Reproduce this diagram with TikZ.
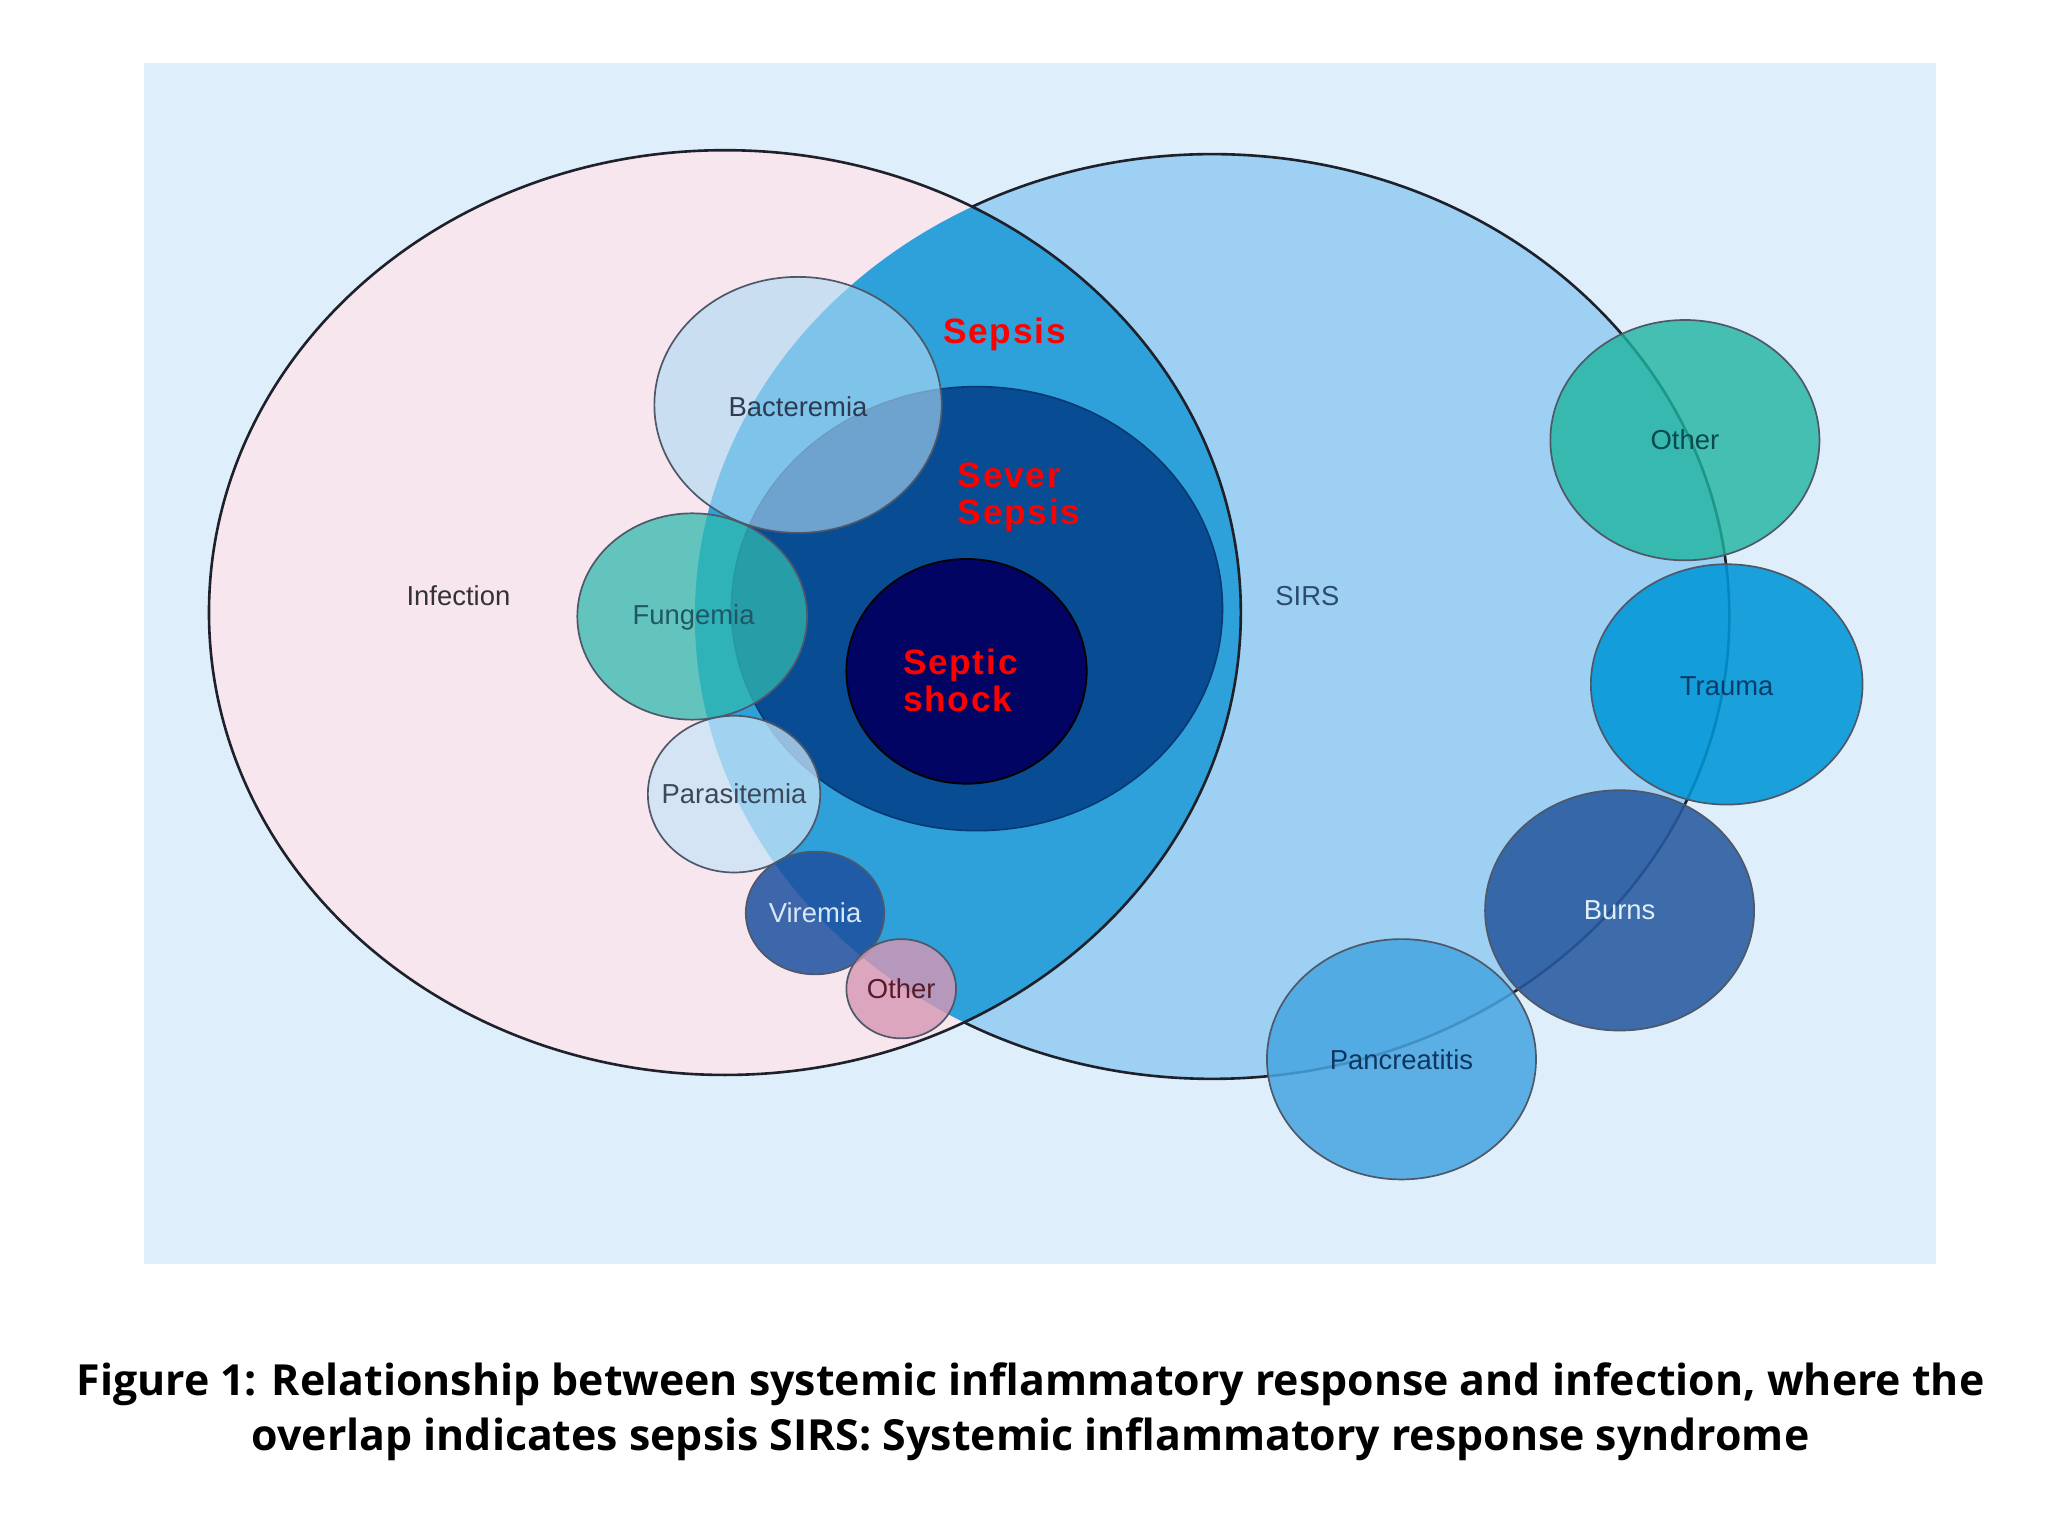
\documentclass[tikz,border=0pt]{standalone}
\usepackage{fontspec}
\setmainfont{Liberation Sans}
\newfontfamily\capfont{Open Sans}
\newfontfamily\redfont{Liberation Sans}[LetterSpace=5]
\usepackage{tikz}
\definecolor{bgblue}{RGB}{222,238,250}
\definecolor{infpink}{RGB}{248,230,238}
\definecolor{sirsblue}{RGB}{157,208,242}
\definecolor{sepsisblue}{RGB}{46,160,218}
\definecolor{severeblue}{RGB}{8,76,148}
\definecolor{shocknavy}{RGB}{2,4,100}
\definecolor{ringline}{RGB}{30,32,42}
\definecolor{bubbleline}{RGB}{78,88,104}
\definecolor{bacblue}{RGB}{175,218,244}
\definecolor{parblue}{RGB}{200,228,247}
\definecolor{fungteal}{RGB}{50,185,175}
\definecolor{virblue}{RGB}{30,80,160}
\definecolor{othpink}{RGB}{215,150,180}
\definecolor{othteal}{RGB}{30,180,160}
\definecolor{traublue}{RGB}{0,150,215}
\definecolor{burnblue}{RGB}{40,90,160}
\definecolor{panblue}{RGB}{70,165,225}
\definecolor{sepred}{RGB}{255,0,0}
\tikzset{ring/.style={draw=ringline,line width=1pt},bubble/.style={draw=bubbleline,line width=.65pt},lbl/.style={anchor=center,inner sep=1pt,font=\fontsize{10.5}{12}\selectfont},redlbl/.style={inner sep=1pt,text=sepred,align=left,font=\redfont\bfseries\fontsize{13.5}{14}\selectfont}}

\begin{document}
\begin{tikzpicture}[x=.5pt,y=-.5pt]
\path[use as bounding box] (0,0) rectangle (1568,1176);
\fill[bgblue] (110,48) rectangle (1482,968);
% the two big sets
\coordinate (infC) at (555,469);
\coordinate (sirsC) at (928,472);
\fill[sirsblue] (sirsC) ellipse [x radius=396,y radius=354];
\draw[ring] (sirsC) ellipse [x radius=396,y radius=354];
\fill[infpink] (infC) ellipse [x radius=395,y radius=354];
\begin{scope}
\clip (sirsC) ellipse [x radius=396,y radius=354];
\fill[sepsisblue] (infC) ellipse [x radius=395,y radius=354];
\end{scope}
\draw[ring] (infC) ellipse [x radius=395,y radius=354];
\fill[severeblue] (748,466) ellipse [x radius=188,y radius=170];
\draw[severeblue!75!black,line width=.6pt] (748,466) ellipse [x radius=188,y radius=170];
\draw[fill=shocknavy,draw=black,line width=.7pt] (740,514) ellipse [x radius=92,y radius=86];
% infection bubbles
\fill[bacblue,fill opacity=.62] (611,310) ellipse [x radius=110,y radius=98];
\draw[bubble] (611,310) ellipse [x radius=110,y radius=98];
\fill[fungteal,fill opacity=.75] (530,472) ellipse [x radius=88,y radius=79];
\draw[bubble] (530,472) ellipse [x radius=88,y radius=79];
\fill[parblue,fill opacity=.75] (562,608) ellipse [x radius=66,y radius=60];
\draw[bubble] (562,608) ellipse [x radius=66,y radius=60];
\fill[virblue,fill opacity=.85] (624,699) ellipse [x radius=53,y radius=47];
\draw[bubble] (624,699) ellipse [x radius=53,y radius=47];
\fill[othpink,fill opacity=.8] (690,757) ellipse [x radius=42,y radius=38];
\draw[bubble] (690,757) ellipse [x radius=42,y radius=38];
% SIRS bubbles
\fill[othteal,fill opacity=.8] (1290,337) ellipse [x radius=103,y radius=92];
\draw[bubble] (1290,337) ellipse [x radius=103,y radius=92];
\fill[traublue,fill opacity=.88] (1322,524) ellipse [x radius=104,y radius=92];
\draw[bubble] (1322,524) ellipse [x radius=104,y radius=92];
\fill[burnblue,fill opacity=.88] (1240,697) ellipse [x radius=103,y radius=92];
\draw[bubble] (1240,697) ellipse [x radius=103,y radius=92];
\fill[panblue,fill opacity=.85] (1073,811) ellipse [x radius=103,y radius=92];
\draw[bubble] (1073,811) ellipse [x radius=103,y radius=92];
% labels
\node[lbl,text=black!80] (infection) at (351,456) {Infection};
\node[lbl,text={rgb,255:red,45;green,75;blue,110}] (sirs) at (1001,456) {SIRS};
\node[lbl,text={rgb,255:red,45;green,58;blue,80}] (bacteremia) at (611,311) {Bacteremia};
\node[lbl,text={rgb,255:red,30;green,88;blue,100}] (fungemia) at (531,473) {Fungemia};
\node[lbl,text={rgb,255:red,58;green,72;blue,92}] (parasitemia) at (562,608) {Parasitemia};
\node[lbl,text={rgb,255:red,215;green,232;blue,248}] (viremia) at (624,699) {Viremia};
\node[lbl,text={rgb,255:red,90;green,26;blue,42}] (otherinf) at (690,757) {Other};
\node[lbl,text={rgb,255:red,12;green,72;blue,80}] (othersirs) at (1290,337) {Other};
\node[lbl,text={rgb,255:red,12;green,60;blue,104}] (trauma) at (1322,525) {Trauma};
\node[lbl,text={rgb,255:red,224;green,238;blue,250}] (burns) at (1240,697) {Burns};
\node[lbl,text={rgb,255:red,14;green,55;blue,96}] (pancreatitis) at (1073,811) {Pancreatitis};
\node[redlbl,anchor=center] (sepsis) at (769,256) {Sepsis};
\node[redlbl,anchor=west] (severe) at (731,381) {Sever\\Sepsis};
\node[redlbl,anchor=west] (shock) at (689,521) {Septic\\shock};
\node[align=center,inner sep=0pt,font=\capfont\bfseries\fontsize{16.4}{21}\selectfont] (caption) at (789,1081) {Figure 1: Relationship between systemic inflammatory response and infection, where the\\overlap indicates sepsis SIRS: Systemic inflammatory response syndrome};
\end{tikzpicture}
\end{document}
